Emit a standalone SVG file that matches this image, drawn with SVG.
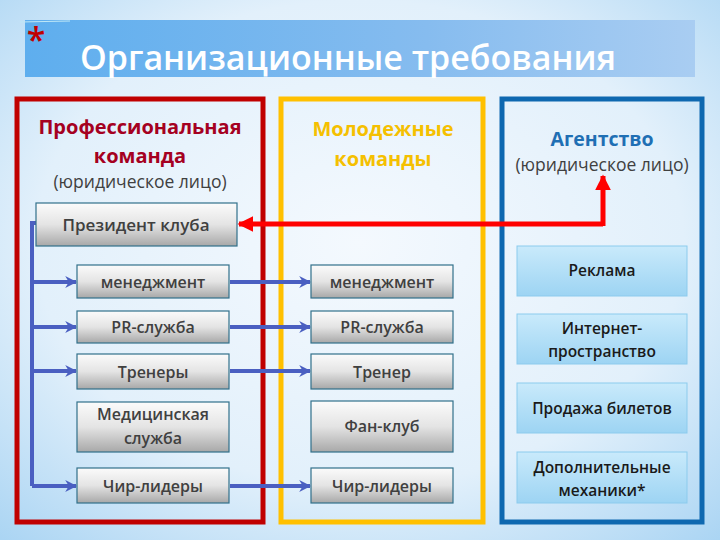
<svg xmlns="http://www.w3.org/2000/svg" width="720" height="540" viewBox="0 0 720 540">
<defs>
<radialGradient id="bg" cx="0.5" cy="0.45" r="0.75">
<stop offset="0" stop-color="#f4f9fe"/>
<stop offset="0.6" stop-color="#e2f0fb"/>
<stop offset="1" stop-color="#a9d4f3"/>
</radialGradient>
<linearGradient id="tb" x1="0" y1="0" x2="1" y2="0">
<stop offset="0" stop-color="#5eaeee"/>
<stop offset="0.6" stop-color="#86bcef"/>
<stop offset="1" stop-color="#a9cdf2"/>
</linearGradient>
<linearGradient id="gray" x1="0" y1="0" x2="0" y2="1">
<stop offset="0" stop-color="#fbfbfb"/>
<stop offset="0.5" stop-color="#e4e4e4"/>
<stop offset="1" stop-color="#a8a8a8"/>
</linearGradient>
<linearGradient id="lb" x1="0" y1="0" x2="0" y2="1">
<stop offset="0" stop-color="#c9eafb"/>
<stop offset="1" stop-color="#9dd4f3"/>
</linearGradient>
<marker id="ab" viewBox="0 0 10 10" refX="9" refY="5" markerWidth="3" markerHeight="3" orient="auto" markerUnits="strokeWidth">
<path d="M0,0 L10,5 L0,10 L3,5 Z" fill="#4a5fc1"/>
</marker>
<marker id="ar" viewBox="0 0 10 10" refX="9" refY="5" markerWidth="3.2" markerHeight="3.2" orient="auto" markerUnits="strokeWidth">
<path d="M0,0 L10,5 L0,10 Z" fill="#ff0000"/>
</marker>
</defs>
<style>
.t{font-family:"Open Sans","Noto Sans","DejaVu Sans",sans-serif;text-anchor:middle}
.b{font-weight:bold}
.gbox{fill:url(#gray);stroke:#31708a;stroke-width:1.2}
.lbox{fill:url(#lb);stroke:#8ccbed;stroke-width:1}
.bt{font-size:16px;fill:#404040;font-weight:600}
.rt{font-size:15.5px;fill:#1a1a1a;font-weight:600}
.con{stroke:#4a5fc1;stroke-width:4;fill:none}
.sub{font-size:17.5px;fill:#404040}
</style>
<rect width="720" height="540" fill="url(#bg)"/>
<g id="title">
<rect x="25" y="20" width="670" height="57" fill="url(#tb)"/>
<line x1="20" y1="22" x2="70" y2="21" stroke="#bfe8f7" stroke-width="1"/>
<text x="36" y="52" class="t" font-size="34" font-weight="600" fill="#c00000">*</text>
<text x="80" y="70" font-family="'Open Sans','Noto Sans',sans-serif" font-weight="600" font-size="34" fill="#ffffff">Организационные требования</text>
</g>
<g id="pro">
<rect x="17" y="99" width="246" height="423" fill="none" stroke="#c00000" stroke-width="5"/>
<text x="140" y="134" class="t b" font-size="20" fill="#a50021">Профессиональная</text>
<text x="140" y="163" class="t b" font-size="20" fill="#a50021">команда</text>
<text x="140" y="188" class="t sub">(юридическое лицо)</text>
</g>
<g id="youth">
<rect x="281" y="99" width="202" height="423" fill="none" stroke="#ffc000" stroke-width="5"/>
<text x="383" y="136" class="t b" font-size="20" fill="#f5c000">Молодежные</text>
<text x="383" y="166" class="t b" font-size="20" fill="#f5c000">команды</text>
</g>
<g id="agency">
<rect x="502" y="99" width="200" height="423" fill="none" stroke="#0e68b0" stroke-width="5"/>
<text x="602" y="146" class="t b" font-size="19.5" fill="#1f6fb4">Агентство</text>
<text x="602" y="171" class="t sub">(юридическое лицо)</text>
</g>
<g id="connectors">
<path class="con" d="M36,223 H32 V486"/>
<line class="con" x1="32" y1="282" x2="76" y2="282" marker-end="url(#ab)"/>
<line class="con" x1="32" y1="327" x2="76" y2="327" marker-end="url(#ab)"/>
<line class="con" x1="32" y1="371" x2="76" y2="371" marker-end="url(#ab)"/>
<line class="con" x1="32" y1="486" x2="76" y2="486" marker-end="url(#ab)"/>
<line class="con" x1="230" y1="282" x2="310" y2="282" marker-end="url(#ab)"/>
<line class="con" x1="230" y1="327" x2="310" y2="327" marker-end="url(#ab)"/>
<line class="con" x1="230" y1="371" x2="310" y2="371" marker-end="url(#ab)"/>
<line class="con" x1="230" y1="486" x2="310" y2="486" marker-end="url(#ab)"/>
<path d="M603,224 H239" stroke="#ff0000" stroke-width="5" fill="none" marker-end="url(#ar)"/>
<path d="M603,226 V176" stroke="#ff0000" stroke-width="5" fill="none" marker-end="url(#ar)"/>
</g>
<g id="president">
<rect class="gbox" x="36" y="203" width="201" height="43"/>
<text x="136" y="231" class="t" font-size="17" font-weight="600" fill="#404040">Президент клуба</text>
</g>
<g id="l-mgmt"><rect class="gbox" x="77" y="265" width="152" height="33"/><text x="153" y="288" class="t bt">менеджмент</text></g>
<g id="l-pr"><rect class="gbox" x="77" y="311" width="152" height="32"/><text x="153" y="333" class="t bt">PR-служба</text></g>
<g id="l-coach"><rect class="gbox" x="77" y="354" width="152" height="35"/><text x="153" y="378" class="t bt">Тренеры</text></g>
<g id="l-med"><rect class="gbox" x="77" y="402" width="152" height="50"/><text x="153" y="420" class="t bt">Медицинская</text><text x="153" y="444" class="t bt">служба</text></g>
<g id="l-cheer"><rect class="gbox" x="77" y="468" width="152" height="35"/><text x="153" y="492" class="t bt">Чир-лидеры</text></g>
<g id="m-mgmt"><rect class="gbox" x="311" y="265" width="142" height="33"/><text x="382" y="288" class="t bt">менеджмент</text></g>
<g id="m-pr"><rect class="gbox" x="311" y="311" width="142" height="32"/><text x="382" y="333" class="t bt">PR-служба</text></g>
<g id="m-coach"><rect class="gbox" x="311" y="354" width="142" height="35"/><text x="382" y="378" class="t bt">Тренер</text></g>
<g id="m-fan"><rect class="gbox" x="311" y="401" width="142" height="51"/><text x="382" y="432" class="t bt">Фан-клуб</text></g>
<g id="m-cheer"><rect class="gbox" x="311" y="468" width="142" height="35"/><text x="382" y="492" class="t bt">Чир-лидеры</text></g>
<g id="r-ad"><rect class="lbox" x="517" y="246" width="170" height="50"/><text x="602" y="276" class="t rt">Реклама</text></g>
<g id="r-net"><rect class="lbox" x="517" y="314" width="170" height="50"/><text x="602" y="334" class="t rt">Интернет-</text><text x="602" y="357" class="t rt">пространство</text></g>
<g id="r-tix"><rect class="lbox" x="517" y="383" width="170" height="50"/><text x="602" y="414" class="t rt">Продажа билетов</text></g>
<g id="r-extra"><rect class="lbox" x="517" y="452" width="170" height="51"/><text x="602" y="473" class="t rt">Дополнительные</text><text x="602" y="496" class="t rt">механики*</text></g>
</svg>
